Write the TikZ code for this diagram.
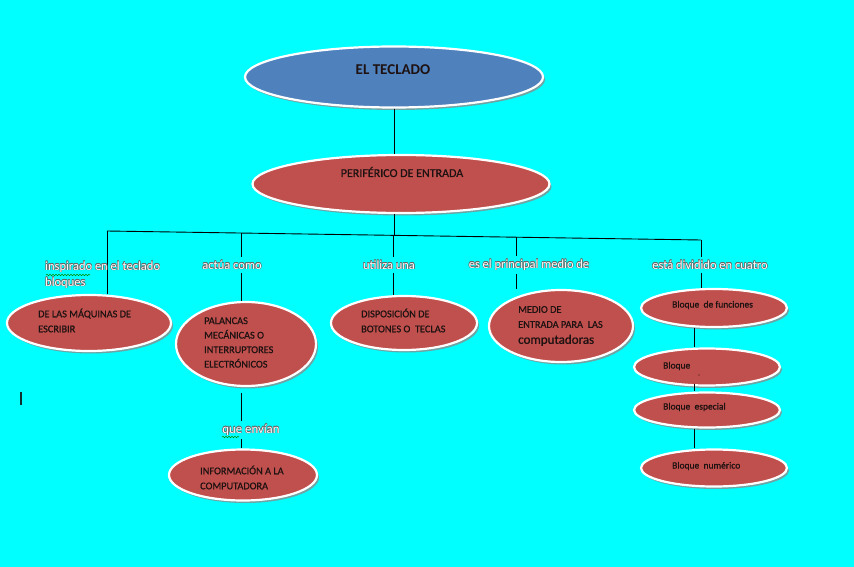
\documentclass[tikz,border=0pt]{standalone}
\usepackage{fontspec}
\setmainfont{Carlito}
\newfontfamily\semib{Carlito}[FakeBold=0.8]
\usetikzlibrary{shapes.geometric,shadows,decorations.pathmorphing}
\definecolor{bg}{RGB}{0,255,255}
\definecolor{redfill}{RGB}{192,80,77}
\definecolor{bluefill}{RGB}{79,129,189}
\definecolor{txt}{RGB}{30,18,18}
\newcommand\oc[3]{\rlap{\kern#1\raisebox{#2}{#3}}}
\newcommand\shtxt[1]{\leavevmode{\color{black!60}\oc{0.45pt}{0pt}{#1}\oc{-0.45pt}{0pt}{#1}\oc{0pt}{0.45pt}{#1}\oc{0pt}{-0.45pt}{#1}\oc{0.35pt}{0.35pt}{#1}\oc{-0.35pt}{-0.35pt}{#1}\oc{0.35pt}{-0.35pt}{#1}\oc{-0.35pt}{0.35pt}{#1}}#1}
\begin{document}
\begin{tikzpicture}[x=1pt,y=-1pt,
  oval/.style={ellipse, draw=white, line width=2.2pt, fill=redfill, inner sep=0pt,
     drop shadow={shadow xshift=2pt, shadow yshift=-2.5pt, fill=black!45, opacity=0.8}},
  conn/.style={draw=black, line width=0.9pt},
  etxt/.style={font=\semib\fontsize{10.3}{15}\selectfont, align=left, inner sep=0pt, text=txt, anchor=west},
  btxt/.style={font=\semib\fontsize{9.5}{12}\selectfont, inner sep=0pt, text=txt, anchor=west},
  lbl/.style={font=\fontsize{12.5}{16}\selectfont, text=white, inner sep=3pt},
  squig/.style={draw=green!55!black, line width=0.5pt, decorate, decoration={snake, segment length=3pt, amplitude=0.8pt}}]
\fill[bg] (0,0) rectangle (854,567);
\useasboundingbox (0,0) rectangle (854,567);

% ellipses
\node[oval, fill=bluefill, minimum width=298pt, minimum height=61pt] (e0) at (394,77) {};
\node[oval, minimum width=297pt, minimum height=58pt] (e1) at (401,184) {};
\node[oval, minimum width=164pt, minimum height=56pt] (e2) at (89,323) {};
\node[oval, minimum width=140pt, minimum height=84pt] (e3) at (246,344) {};
\node[oval, minimum width=146pt, minimum height=54pt] (e4) at (404,323) {};
\node[oval, minimum width=144pt, minimum height=72pt] (e5) at (561,326) {};
\node[oval, minimum width=146pt, minimum height=38pt] (e6) at (714,308) {};
\node[oval, minimum width=146pt, minimum height=37pt] (e7) at (707,367) {};
\node[oval, minimum width=146pt, minimum height=35pt] (e8) at (707,410) {};
\node[oval, minimum width=146pt, minimum height=37pt] (e9) at (714,468) {};
\node[oval, minimum width=148pt, minimum height=51pt] (e10) at (243,475) {};

% texts inside ellipses
\node[font=\bfseries\fontsize{15}{18}\selectfont, text=txt] (t0) at (393,70) {EL TECLADO};
\node[font=\semib\fontsize{12}{14}\selectfont, text=txt] (t1) at (402,172) {PERIFÉRICO DE ENTRADA};
\node[etxt] (t2) at (38,320.5) {DE LAS MÁQUINAS DE\\ESCRIBIR};
\node[etxt, font=\semib\fontsize{10.3}{14.5}\selectfont] (t3) at (204,342.5) {PALANCAS\\MECÁNICAS O\\INTERRUPTORES\\ELECTRÓNICOS};
\node[etxt] (t4) at (361,320.5) {DISPOSICIÓN DE\\BOTONES O\ \ TECLAS};
\node[etxt] (t5) at (518,326) {MEDIO DE\\ENTRADA PARA\ \ LAS\\[1pt]{\fontsize{13}{15}\selectfont computadoras}};
\node[btxt] (t6) at (672,305) {Bloque\ \ de funciones};
\node[btxt] (t7) at (663,366) {Bloque};
\fill[txt] (699,375) circle (0.6);
\node[btxt] (t8) at (663,407) {Bloque\ \ especial};
\node[btxt] (t9) at (672,466) {Bloque\ \ numérico};
\node[etxt] (t10) at (200,477.5) {INFORMACIÓN A LA\\COMPUTADORA};

% bar coordinates
\coordinate (b1) at (107,231);
\coordinate (b2) at (241,233);
\coordinate (b3) at (393,235.3);
\coordinate (b4) at (516,237.2);
\coordinate (b5) at (701,240);
\coordinate (bc) at (394,235.3);

% labels
\node[lbl] (l2) at (232,265) {\shtxt{actúa como}};
\node[lbl] (l3) at (389,265) {\shtxt{utiliza una}};
\node[lbl] (l4) at (529,265) {\shtxt{es el principal medio de}};
\node[lbl] (l5) at (710,265) {\shtxt{está dividido en cuatro}};
\node[lbl, font=\fontsize{12.8}{16}\selectfont] (l6) at (251,430) {\shtxt{que envían}};

% connectors
\draw[conn] (e0.south) -- (e0.south |- e1.north);
\draw[conn] (e0.south |- e1.south) -- (bc);
\draw[conn] (b1) -- (b5);
\draw[conn] (b1) -- (b1 |- e2.north);
\draw[conn] (b2) -- (b2 |- l2.north);
\draw[conn] (b2 |- l2.south) -- (b2 |- e3.north);
\draw[conn] (b3) -- (b3 |- l3.north);
\draw[conn] (b3 |- l3.south) -- (b3 |- e4.north);
\draw[conn] (b4) -- (b4 |- l4.north);
\draw[conn] (b4 |- l4.south) -- (b4 |- e5.north);
\draw[conn] (b5) -- (b5 |- l5.north);
\draw[conn] (b5 |- l5.south) -- (b5 |- e6.north);
\draw[conn] ([xshift=-20pt]e6.south) -- ([xshift=-13pt]e7.north);
\draw[conn] ([xshift=-13pt,yshift=3pt]e7.south) -- ([xshift=-13pt]e8.north);
\draw[conn] ([xshift=-13pt]e8.south) -- ([xshift=-20pt]e9.north);
\draw[conn] ([xshift=-5pt,yshift=-6pt]e3.south) -- ([xshift=-10pt]l6.north);
\draw[conn] ([xshift=-10pt]l6.south) -- ([xshift=-2pt]e10.north);

% label drawn over its line
\node[lbl, align=left, anchor=north west, inner sep=0pt] (l1) at (45,261) {\shtxt{inspirado en el teclado}\\\shtxt{bloques}};

% spell-check squiggles
\draw[squig] (46,275) -- (90,275);
\draw[squig] (222,437) -- (239,437);

% cursor mark
\draw[line width=1.8pt, draw={rgb,255:red,16;green,48;blue,48}] (21,392) -- (21,405);
\end{tikzpicture}
\end{document}
